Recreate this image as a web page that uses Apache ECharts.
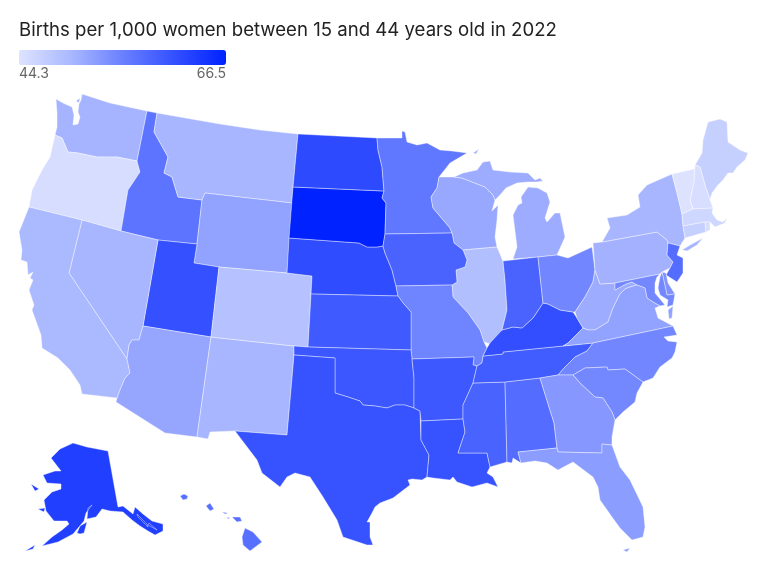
<!DOCTYPE html>
<html>
<head>
<meta charset="utf-8">
<title>Births per 1,000 women</title>
<script src="https://cdn.jsdelivr.net/npm/echarts@6/dist/echarts.min.js"></script>
<style>
  html, body { margin: 0; padding: 0; background: #fff; }
  #chart { width: 768px; height: 576px; }
</style>
</head>
<body>
<div id="chart"></div>
<script>
const titleText = 'Births per 1,000 women between 15 and 44 years old in 2022';
const scaleMin = 44.3;
const scaleMax = 66.5;
const scaleColors = ['#dde3ff', '#aab8ff', '#6a80ff', '#3450ff', '#0022ff'];

const stateNames = ['AK','AL','AR','AZ','CA','CO','CT','DE','FL','GA','HI','IA','ID','IL','IN','KS','KY','LA','MA','MD','ME','MI','MN','MO','MS','MT','NC','ND','NE','NH','NJ','NM','NV','NY','OH','OK','OR','PA','RI','SC','SD','TN','TX','UT','VA','VT','WA','WI','WV','WY'];
const birthRates = [63,57.7,60,51.6,49.7,48.6,46.8,53.6,52.5,53,57.2,58.7,56.8,49,58.7,59.8,61.2,60.6,45.9,54.6,46.8,51,56.4,55,58.8,50,54.7,61.7,61.4,45,57.6,50,50,50,54.7,60.1,45.1,50.5,45.1,54.6,66.5,59.6,60.6,60.8,52,44.3,50.2,51.4,51,52];

// state outlines, traced by hand, one string per polygon, holes after |
const stateShapes = {
  WA: ['82,94 110,103 147,111 137,161 117,157 97,157 78,153 68,152 62,138 55,135 57,127 57,113 56,99 63,103 72,107 74,115 73,125 78,124 80,117 78,112 79,104 81,100', '76,101 80,98 79,103'],
  OR: ['55,135 62,138 68,152 78,153 97,157 117,157 137,161 140,172 128,190 121,231 82,220 29,207 32,190 42,170 50,157'],
  ID: ['147,111 157,113 154,132 168,157 164,173 172,177 178,197 202,200 197,244 158,240 121,231 128,190 140,172 137,161'],
  MT: ['157,113 220,124 260,130 298,134 293,187 292,203 205,193 202,200 178,197 172,177 164,173 168,157 154,132'],
  WY: ['205,193 292,203 287,273 219,267 194,263 197,244 202,200'],
  UT: ['158,240 197,244 194,263 219,267 211,337 143,326'],
  NV: ['82,220 121,231 158,240 143,326 139,340 132,340 129,345 127,359 69,273'],
  CA: ['29,207 82,220 69,273 127,359 130,373 125,378 120,390 117,398 82,394 80,385 70,370 58,358 42,348 41,335 32,310 34,305 29,290 33,280 30,278 33,272 28,275 27,262 21,260 22,250 19,232'],
  AZ: ['143,326 211,337 197,437 165,433 116,402 117,398 120,390 125,378 130,373 127,359 129,345 132,340 139,340'],
  NM: ['211,337 294,346 294,355 287,435 235,431 210,432 208,439 197,437'],
  CO: ['219,267 287,273 312,276 308,347 294,346 211,337'],
  NE: ['289,238 359,243 367,247 377,247 383,246 385,253 392,270 396,286 398,296 311,294 312,276 287,273'],
  SD: ['293,187 384,191 382,198 386,203 385,234 383,246 377,247 367,247 359,243 289,238'],
  ND: ['298,134 377,138 378,150 382,167 384,191 293,187'],
  MN: ['377,138 402,138 402,131 405,132 407,142 417,145 427,143 440,150 452,151 467,153 450,163 439,177 437,188 431,197 433,208 450,228 452,233 385,234 386,203 382,198 384,191 382,167 378,150'],
  WI: ['439,177 454,177 462,178 485,187 493,195 495,200 492,211 493,212 498,205 497,220 495,237 497,247 463,250 454,243 452,233 450,228 433,208 431,197 437,188'],
  MI: ['454,177 463,173 477,170 483,162 490,161 493,170 510,172 528,173 535,180 540,178 543,181 537,182 528,182 517,183 506,188 500,195 495,200 493,195 485,187 462,178', '473,153 479,149 476,154', '513,259 517,247 513,215 518,205 522,203 521,197 528,187 538,188 547,193 550,202 545,218 547,222 555,213 560,213 565,237 557,255 538,257'],
  IL: ['463,250 497,247 503,261 505,280 507,310 502,330 500,340 493,345 484,342 480,330 468,313 453,297 452,285 457,282 456,270 465,267 467,260'],
  IA: ['385,234 452,233 454,243 463,250 467,260 465,267 456,270 457,282 452,285 396,286 392,270 385,253 383,246'],
  MO: ['396,286 452,285 453,297 468,313 480,330 484,342 487,348 483,356 482,363 477,366 473,365 474,357 412,359 411,350 411,312 403,303 398,296'],
  KS: ['311,294 398,296 403,303 411,312 411,350 308,347'],
  OK: ['294,346 308,347 411,350 412,359 414,378 414,408 405,405 395,405 387,408 375,406 363,405 360,401 348,397 335,393 335,358 294,355'],
  TX: ['294,355 335,358 335,393 348,397 360,401 363,405 375,406 387,408 395,405 405,405 414,408 420,411 421,440 429,455 427,477 422,480 412,479 408,480 410,485 393,498 380,503 375,507 372,513 367,522 370,522 370,537 373,545 367,545 343,537 337,520 323,497 310,477 295,473 287,477 280,487 262,473 257,460 235,431 287,435'],
  AR: ['412,359 474,357 473,365 477,366 473,383 463,405 463,419 421,421 420,411 414,408 414,378'],
  LA: ['421,421 463,419 465,432 458,453 487,453 490,467 487,473 493,477 498,487 487,483 472,487 457,482 453,477 450,480 433,478 427,477 429,455 421,440'],
  MS: ['473,383 505,382 507,462 490,467 487,453 458,453 465,432 463,419 463,405'],
  AL: ['505,382 540,378 554,423 557,448 518,452 521,463 513,458 512,463 507,462'],
  TN: ['483,356 503,354 503,352 563,346 593,343 587,351 575,357 565,367 558,375 540,378 505,382 473,383 477,366 482,363'],
  KY: ['487,348 490,343 502,330 513,327 522,328 533,318 543,303 548,304 560,310 573,312 577,318 583,328 568,343 563,346 503,352 503,354 483,356'],
  IN: ['503,261 538,257 543,303 533,318 522,328 513,327 502,330 507,310 505,280'],
  OH: ['538,257 557,255 568,258 592,247 595,270 593,282 585,297 575,312 573,312 560,310 548,304 543,303'],
  WV: ['595,270 600,284 615,283 615,290 626,284 632,282 637,285 630,287 625,289 620,294 613,308 608,322 595,330 588,330 583,328 577,318 575,312 585,297 593,282'],
  PA: ['593,243 602,242 657,232 667,240 668,243 667,255 673,262 670,268 662,272 660,274 615,283 600,284 595,270'],
  NY: ['602,242 610,228 607,218 627,215 640,207 638,195 647,185 672,174 677,193 682,214 683,226 685,238 680,246 668,243 667,240 657,232', '682,250 690,245 703,238 697,245 687,251'],
  NJ: ['668,243 680,246 677,255 683,258 683,273 677,282 666,275 670,268 673,262 667,255'],
  DE: ['662,272 666,273 668,283 675,294 667,295'],
  MD: ['615,283 660,274 657,277 655,283 655,293 660,299 665,305 660,306 653,302 647,298 645,288 637,285 632,282 626,284 615,290', '660,277 662,272 667,295 675,294 673,305 667,307 668,300 660,295 658,288'],
  VA: ['637,285 645,288 647,298 653,302 660,306 655,308 658,318 673,326 593,343 563,346 568,343 583,328 588,330 595,330 608,322 613,308 620,294 625,289 630,287', '668,310 673,306 672,318 669,319'],
  NC: ['593,343 673,326 677,335 664,337 668,341 677,342 675,352 672,358 660,367 653,378 643,382 625,369 608,370 607,367 585,368 573,375 558,375 565,367 575,357 587,351'],
  SC: ['573,375 585,368 607,367 608,370 625,369 643,382 637,393 635,402 623,412 615,420 612,412 603,398 595,397 580,383'],
  GA: ['540,378 558,375 573,375 580,383 595,397 603,398 612,412 615,420 612,437 612,445 602,444 602,453 558,452 557,448 554,423'],
  FL: ['518,452 557,448 558,452 602,453 602,444 612,445 620,467 630,480 643,507 645,527 643,537 632,540 620,528 612,517 600,500 598,487 593,477 573,462 558,470 547,463 535,461 521,463', '623,550 630,548 627,552'],
  ME: ['708,122 720,119 727,122 728,142 740,150 748,153 745,160 737,167 733,173 728,173 723,180 718,185 712,193 710,200 705,185 700,167 695,165 702,153 703,140'],
  NH: ['695,165 700,167 705,185 710,200 713,208 693,209 690,200 694,182'],
  VT: ['672,174 694,169 695,165 694,182 690,200 693,209 682,214 677,193'],
  MA: ['682,214 693,209 713,208 712,213 717,220 723,222 727,218 725,223 715,227 710,222 705,222 683,226'],
  CT: ['683,226 705,222 706,232 685,238'],
  RI: ['705,222 710,222 710,230 706,232'],
  AK: ['60,449 73,443 87,447 108,451 118,507 123,506 133,514 135,507 143,514 152,521 163,524 163,531 155,535 148,531 140,526 132,520 123,512 110,511 102,509 96,517 87,519 88,508 92,505 86,513 84,521 73,534 58,542 42,546 52,537 62,530 69,524 67,521 54,521 46,511 44,500 52,492 61,489 61,484 47,483 43,475 55,471 61,471 51,458|137,514 147,524 148,527 138,517|149,523 157,530 156,531 148,525', '77,533 80,526 87,522 84,533 80,534', '25,551 35,545 33,549', '38,509 45,508 44,512', '31,484 39,489 35,491'],
  HI: ['180,496 184,494 188,496 187,499 183,500', '206,506 210,503 214,509 210,511', '222,512 228,513 225,514', '227,517 230,518 228,519', '232,517 240,517 242,521 237,522', '245,528 253,532 262,542 250,551 243,545 242,537']
};

function parseRing(text) {
  const ring = text.split(' ').map(p => p.split(',').map(Number));
  ring.push(ring[0]);
  return ring;
}

const usaGeo = {
  type: 'FeatureCollection',
  features: Object.keys(stateShapes).map(name => ({
    type: 'Feature',
    properties: { name: name },
    geometry: {
      type: 'MultiPolygon',
      coordinates: stateShapes[name].map(s => s.split('|').map(parseRing))
    }
  }))
};

echarts.registerMap('USA', usaGeo);

const myChart = echarts.init(document.getElementById('chart'));

const option = {
  backgroundColor: '#fff',
  animation: false,
  title: [
    {
      text: titleText,
      left: 19,
      top: 21,
      padding: 0,
      textStyle: { fontFamily: 'Inter', fontSize: 18.6, fontWeight: 400, color: '#222' }
    },
    {
      text: String(scaleMin),
      left: 19,
      top: 67,
      padding: 0,
      textStyle: { fontFamily: 'Inter', fontSize: 14, fontWeight: 400, color: '#666' }
    },
    {
      text: String(scaleMax),
      right: 542,
      top: 67,
      padding: 0,
      textStyle: { fontFamily: 'Inter', fontSize: 14, fontWeight: 400, color: '#666' }
    }
  ],
  visualMap: {
    type: 'continuous',
    min: scaleMin,
    max: scaleMax,
    orient: 'horizontal',
    left: 19,
    top: 50,
    padding: 0,
    itemWidth: 15,
    itemHeight: 207,
    calculable: false,
    realtime: false,
    text: null,
    showLabel: false,
    hoverLink: false,
    inRange: { color: scaleColors }
  },
  series: [
    {
      type: 'map',
      map: 'USA',
      projection: { project: p => p, unproject: p => p },
      boundingCoords: [[0, 0], [768, 576]],
      aspectScale: 1,
      layoutCenter: [384, 288],
      layoutSize: 768,
      roam: false,
      silent: true,
      label: { show: false },
      itemStyle: { borderColor: 'rgba(255,255,255,0.5)', borderWidth: 0.8 },
      data: stateNames.map((name, i) => ({ name: name, value: birthRates[i] }))
    }
  ]
};

myChart.setOption(option);
</script>
</body>
</html>
